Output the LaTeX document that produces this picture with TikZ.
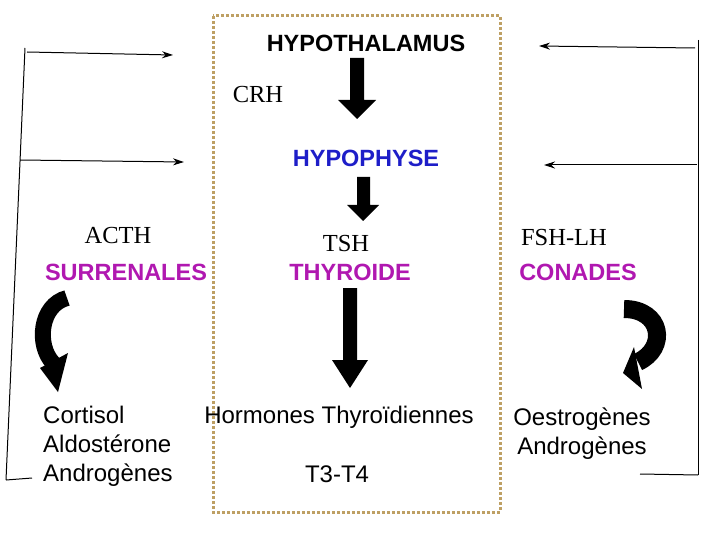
\documentclass[tikz,border=0pt]{standalone}
\usepackage{fontspec}
\setmainfont{Liberation Serif}
\setsansfont{Liberation Sans}
\usetikzlibrary{arrows.meta,shapes.arrows}
\definecolor{mag}{RGB}{176,24,176}
\definecolor{hblue}{RGB}{30,30,200}
\definecolor{tan}{RGB}{190,160,100}
\begin{document}
\begin{tikzpicture}[x=1pt,y=-1pt,
  sl/.style={font=\sffamily\fontsize{24}{29}\selectfont},
  sb/.style={font=\sffamily\bfseries\fontsize{23.5}{28}\selectfont},
  sr/.style={font=\fontsize{24.5}{28}\selectfont},
  thin/.style={line width=1pt},
  fb/.style={thin,-{Stealth[length=11pt,width=7pt]}},
  blk/.style={fill=black,draw=none}]
\useasboundingbox (0,0) rectangle (720,540);
\draw[tan,line width=3pt,dotted] (213,16) rectangle (500,512);
\node[sb] (hyp) at (366,43) {HYPOTHALAMUS};
\node[sr] (crh) at (258,95) {CRH};
\node[sb,text=hblue] (hph) at (366,158) {HYPOPHYSE};
\node[sr] (acth) at (118,236) {ACTH};
\node[sr] (tsh) at (346,244) {TSH};
\node[sr] (fsh) at (564,238) {FSH-LH};
\node[sb,text=mag] (sur) at (126,272) {SURRENALES};
\node[sb,text=mag] (thy) at (350,272) {THYROIDE};
\node[sb,text=mag] (con) at (578,272) {CONADES};
\node[sl,align=left,anchor=north west,inner sep=0pt] (cort) at (43,406) {Cortisol\\Aldostérone\\Androgènes};
\node[sl] (horm) at (339,417) {Hormones Thyroïdiennes};
\node[sl] (t34) at (337,474) {T3-T4};
\node[sl,align=center] (oes) at (582,434) {Oestrogènes\\Androgènes};
% block arrows
\fill[blk] (350,58) -- (364,58) -- (364,100) -- (376,100) -- (357,119) -- (338,100) -- (350,100) -- cycle;
\fill[blk] (357,177) -- (370,177) -- (370,205) -- (379,205) -- (363,221) -- (347,205) -- (357,205) -- cycle;
\fill[blk] (343,288) -- (357,288) -- (357,360) -- (368,360) -- (350,388) -- (332,360) -- (343,360) -- cycle;
% curved arrows
\draw[line width=16pt] (67,298) .. controls (40,305) and (36,345) .. (53,363);
\fill[blk] (58,392) -- (40,368) -- (68,353) -- cycle;
\draw[line width=18pt] (624,309) .. controls (662,309) and (668,348) .. (638,362);
\fill[blk] (623,373) -- (634,347) -- (642,389) -- cycle;
% feedback lines
\coordinate (l1) at (25,48); \coordinate (l2) at (6,480);
\draw[thin] (l1) -- (l2);
\coordinate (lb) at (32,478); \draw[thin] (l2) -- (lb);
\coordinate (a1) at (27,52); \coordinate (a1e) at (173,55);
\draw[fb] (a1) -- (a1e);
\coordinate (a2) at (20,160); \coordinate (a2e) at (184,162);
\draw[fb] (a2) -- (a2e);
\coordinate (r1) at (698,40); \coordinate (r2) at (698,475);
\draw[thin] (r1) -- (r2);
\coordinate (rb) at (640,474); \draw[thin] (rb) -- (r2);
\coordinate (b1) at (695,48); \coordinate (b1e) at (539,46);
\draw[fb] (b1) -- (b1e);
\coordinate (b2) at (697,165); \coordinate (b2e) at (544,165);
\draw[fb] (b2) -- (b2e);
\end{tikzpicture}
\end{document}
